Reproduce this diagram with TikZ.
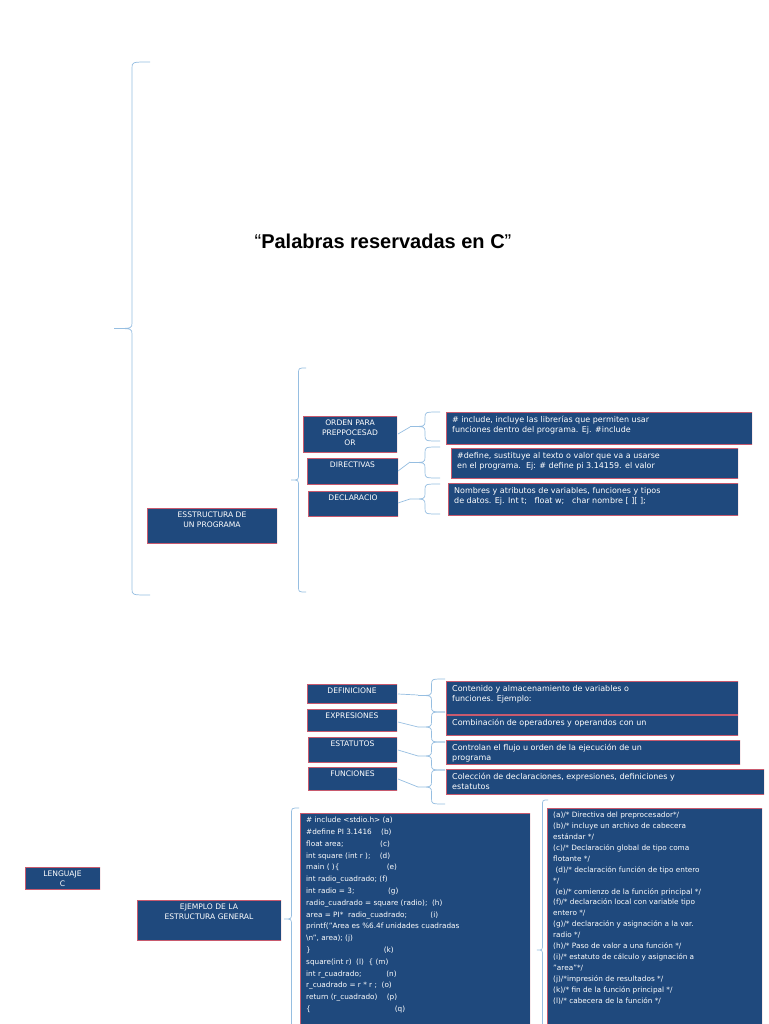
\documentclass[tikz,border=0pt]{standalone}
\usepackage{fontspec}
\setmainfont{DejaVu Sans}
\newfontfamily\titlefont{Liberation Sans}
\definecolor{boxblue}{RGB}{31,73,125}
\definecolor{boxedge}{RGB}{200,90,110}
\definecolor{bracecol}{RGB}{150,190,225}
\tikzset{
  bx/.style={fill=boxblue,draw=boxedge,line width=0.6pt},
  br/.style={draw=bracecol,line width=0.7pt},
  txt/.style={text=white,inner sep=0pt,font=\fontsize{7.6}{9.6}\selectfont},
}
\newcommand\mybox[6]{%
  \begin{scope}
  \clip (#2,-#3) rectangle (#4,-#5);
  \path[bx] (#2,-#3) rectangle (#4,-#5);
  \node[txt,align=center,anchor=north] (#1) at ({(#2+#4)/2},-#3-4) {#6};
  \end{scope}}
\newcommand\leftbox[8]{%
  \begin{scope}
  \clip (#2,-#3) rectangle (#4,-#5);
  \path[bx] (#2,-#3) rectangle (#4,-#5);
  \node[txt,align=left,anchor=north west,font=\fontsize{#7}{#8}\selectfont] (#1) at (#2+6,-#3-4) {#6};
  \end{scope}}
\newcommand\mybrace[4]{%
  \pgfmathsetmacro\xm{(#1+#2)/2}\pgfmathsetmacro\ym{(#3+#4)/2}%
  \draw[br] (#1,-#3) .. controls (\xm,-#3) .. (\xm,-#3-6) -- (\xm,-\ym+6) .. controls (\xm,-\ym) .. (#2,-\ym)
     .. controls (\xm,-\ym) .. (\xm,-\ym-6) -- (\xm,-#4+6) .. controls (\xm,-#4) .. (#1,-#4);}
\begin{document}
\begin{tikzpicture}[x=1pt,y=1pt]
\useasboundingbox[fill=white] (0,0) rectangle (768,-1024);
\node[font=\titlefont\fontsize{20}{24}\selectfont] (title) at (383,-241) {“\textbf{Palabras reservadas en C}”};
\mybrace{150}{114}{62}{595}
\mybrace{306}{291}{368}{592}
\mybox{prog}{147}{508}{277}{543}{ESSTRUCTURA DE\\UN PROGRAMA}
\mybox{orden}{303}{416}{397}{452}{ORDEN PARA\\PREPPOCESAD\\OR}
\mybox{direc}{307}{458}{398}{484}{DIRECTIVAS}
\mybox{decl}{308}{491}{398}{516}{DECLARACIO}
\leftbox{t1}{446}{412}{752}{444}{\# include, incluye las librerías que permiten usar\\funciones dentro del programa. Ej. \#include}{8}{10}
\leftbox{t2}{451}{448}{738}{478}{\#define, sustituye al texto o valor que va a usarse\\en el programa.\ \ Ej: \# define pi 3.14159. el valor}{8}{10}
\leftbox{t3}{448}{483}{738}{515}{Nombres y atributos de variables, funciones y tipos\\de datos. Ej. Int t;\ \ \ float w;\ \ \ char nombre [ ][ ];}{8}{10}
\mybrace{440}{410}{412}{441}
\mybrace{440}{410}{447}{478}
\mybrace{440}{410}{484}{514}
\draw[br] (398,-434) -- (410,-427);
\draw[br] (398,-471) -- (410,-462);
\draw[br] (398,-503) -- (410,-499);
\mybox{defi}{307}{684}{397}{703}{DEFINICIONE}
\mybox{expr}{307}{709}{397}{731}{EXPRESIONES}
\mybox{esta}{308}{737}{397}{762}{ESTATUTOS}
\mybox{func}{308}{767}{397}{790}{FUNCIONES}
\leftbox{u1}{446}{681}{738}{714}{Contenido y almacenamiento de variables o\\funciones. Ejemplo:}{8}{10}
\leftbox{u2}{446}{715}{738}{735}{Combinación de operadores y operandos con un}{8}{10}
\leftbox{u3}{446}{740}{740}{764}{Controlan el flujo u orden de la ejecución de un\\programa}{8}{10}
\leftbox{u4}{446}{769}{764}{794}{Colección de declaraciones, expresiones, definiciones y\\estatutos}{8}{10}
\mybrace{445}{418}{679}{712}
\mybrace{445}{418}{712}{742}
\mybrace{445}{418}{742}{770}
\mybrace{445}{418}{770}{804}
\draw[br] (398,-694) -- (418,-695);
\draw[br] (398,-722) -- (418,-727);
\draw[br] (398,-750) -- (418,-756);
\draw[br] (398,-779) -- (418,-787);
\mybox{leng}{25}{867}{100}{889}{LENGUAJE\\C}
\mybox{ejem}{137}{900}{281}{940}{EJEMPLO DE LA\\ESTRUCTURA GENERAL}
\mybrace{299}{284}{808}{1030}
\mybrace{548}{537}{800}{1100}
\leftbox{code}{300}{813}{530}{1030}{\# include <stdio.h> (a)\\
\#define PI 3.1416\ \ \ \ (b)\\
float area;\hspace{5em}(c)\\
int square (int r );\ \ \ \ (d)\\
main ( )\{\hspace{6.5em}(e)\\
int radio\_cuadrado; (f)\\
int radio = 3;\hspace{4.6em}(g)\\
radio\_cuadrado = square (radio);\ \ (h)\\
area = PI*\ \ radio\_cuadrado;\hspace{3.2em}(i)\\
printf("Area es \%6.4f unidades cuadradas\\
\textbackslash n", area); (j)\\
\}\hspace{10em}(k)\\
square(int r)\ \ (l)\ \ \{ (m)\\
int r\_cuadrado;\hspace{3.4em}(n)\\
r\_cuadrado = r * r ;\ \ (o)\\
return (r\_cuadrado)\ \ \ \ (p)\\
\{\hspace{11.5em}(q)}{7.3}{11.8}
\leftbox{com}{547}{808}{762}{1030}{(a)/* Directiva del preprocesador*/\\
(b)/* incluye un archivo de cabecera\\
estándar */\\
(c)/* Declaración global de tipo coma\\
flotante */\\
\ (d)/* declaración función de tipo entero\\
*/\\
\ (e)/* comienzo de la función principal */\\
(f)/* declaración local con variable tipo\\
entero */\\
(g)/* declaración y asignación a la var.\\
radio */\\
(h)/* Paso de valor a una función */\\
(i)/* estatuto de cálculo y asignación a\\
"area"*/\\
(j)/*impresión de resultados */\\
(k)/* fin de la función principal */\\
(l)/* cabecera de la función */}{7.3}{10.9}
\end{tikzpicture}
\end{document}
